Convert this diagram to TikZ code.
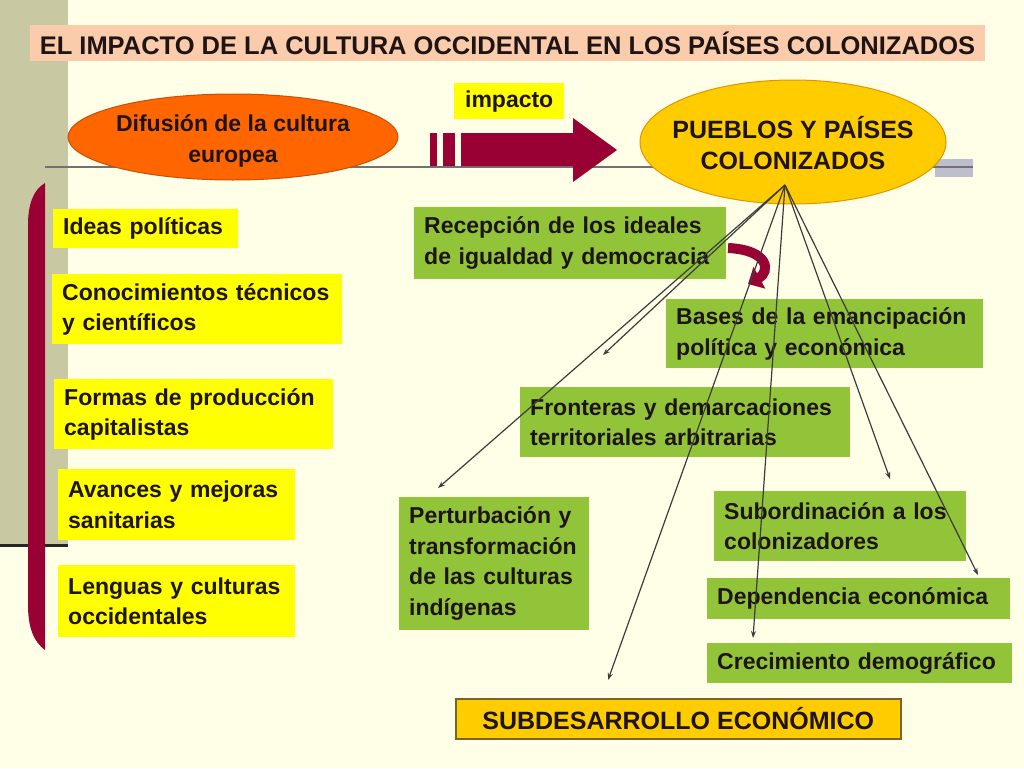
\documentclass[tikz,border=0pt]{standalone}
\usepackage{fontspec}
\setmainfont{Liberation Sans}
\usetikzlibrary{arrows.meta,shapes.geometric}
\definecolor{bg}{RGB}{255,255,232}
\definecolor{band}{RGB}{200,200,162}
\definecolor{peach}{RGB}{250,204,172}
\definecolor{org}{RGB}{255,102,0}
\definecolor{orgd}{RGB}{196,80,10}
\definecolor{gold}{RGB}{255,204,0}
\definecolor{goldd}{RGB}{220,150,0}
\definecolor{yel}{RGB}{255,255,0}
\definecolor{grn}{RGB}{146,196,58}
\definecolor{maroon}{RGB}{153,0,51}
\definecolor{txt}{RGB}{30,20,20}
\definecolor{lin}{RGB}{60,60,60}
\definecolor{hline}{RGB}{120,110,120}
\definecolor{greybox}{RGB}{190,190,205}
\definecolor{brownd}{RGB}{120,100,40}
\tikzset{
  box/.style={anchor=north west, inner xsep=10pt, inner ysep=0pt, align=left,
    font=\bfseries\fontsize{23}{30.5}\selectfont, text=txt},
  ybox/.style={box, fill=yel},
  gbox/.style={box, fill=grn},
  etext/.style={align=center, text=txt, inner sep=0pt},
  conn/.style={draw=lin, line width=1.2pt, -{Stealth[length=7pt,width=5pt]}},
}
\begin{document}
\begin{tikzpicture}[x=1pt,y=-1pt]
\useasboundingbox (0,0) rectangle (1024,768);
\fill[bg] (0,0) rectangle (1024,768);
% left band
\fill[band] (0,0) rectangle (68,545);
\draw[line width=3pt, color=black!85] (0,545) -- (68,545);
% title
\node[fill=peach, minimum width=955pt, minimum height=35pt, inner sep=0pt, text=txt,
  font=\bfseries\fontsize{25.5}{28}\selectfont] (title) at (507.5,43)
  {EL IMPACTO DE LA CULTURA OCCIDENTAL EN LOS PAÍSES COLONIZADOS};
% horizontal line
\draw[hline, line width=2pt] (45,167) -- (935,167);
\fill[greybox] (935,159) rectangle (973,177);
\draw[hline, line width=1.5pt] (935,167) -- (973,167);
% orange ellipse
\node[ellipse, fill=org, draw=orgd, line width=1pt, minimum width=330pt, minimum height=86pt, inner sep=0pt] (dif) at (233,137) {};
\node[etext, font=\bfseries\fontsize{23}{31}\selectfont] (diftext) at (233,141) {Difusión de la cultura\\europea};
% yellow ellipse
\node[ellipse, fill=gold, draw=goldd, line width=1pt, minimum width=306pt, minimum height=124pt, inner sep=0pt] (pb) at (793,142) {};
\node[etext, font=\bfseries\fontsize{25}{31}\selectfont] (pbtext) at (793,143) {PUEBLOS Y PAÍSES\\COLONIZADOS};
% impacto
\node[fill=yel, anchor=north west, minimum width=110pt, minimum height=36pt, inner sep=0pt, text=txt,
  font=\bfseries\fontsize{23}{28}\selectfont] (imp) at (454,83) {impacto};
% big arrow
\fill[maroon] (430,133) rectangle (437,166);
\fill[maroon] (443,133) rectangle (455,166);
\fill[maroon] (461,133) -- (573,133) -- (573,118) -- (617,150) -- (573,182) -- (573,166) -- (461,166) -- cycle;
% left bracket
\fill[maroon] (45,183) -- (45,650) .. controls (34,642) and (28,628) .. (28,605)
  -- (28,225) .. controls (28,205) and (33,190) .. (45,183) -- cycle;
% yellow boxes
\node[ybox, minimum height=39pt, text width=165pt] (i1) at (53,209) {Ideas políticas};
\node[ybox, minimum height=70pt, text width=270pt] (i2) at (52,274) {Conocimientos técnicos\\y científicos};
\node[ybox, minimum height=70pt, text width=259pt] (i3) at (54,379) {Formas de producción\\capitalistas};
\node[ybox, minimum height=71pt, text width=217pt] (i4) at (58,469) {Avances y mejoras\\sanitarias};
\node[ybox, minimum height=72pt, text width=217pt] (i5) at (58,565) {Lenguas y culturas\\occidentales};
% green boxes
\node[gbox, minimum height=72pt, text width=292pt] (g1) at (414,207) {Recepción de los ideales\\de igualdad y democracia};
\node[gbox, minimum height=69pt, text width=297pt] (g2) at (666,299) {Bases de la emancipación\\política y económica};
\node[gbox, minimum height=70pt, text width=310pt] (g3) at (520,387) {Fronteras y demarcaciones\\territoriales arbitrarias};
\node[gbox, minimum height=133pt, text width=170pt] (g4) at (399,497) {Perturbación y\\transformación\\de las culturas\\indígenas};
\node[gbox, minimum height=70pt, text width=232pt] (g5) at (714,491) {Subordinación a los\\colonizadores};
\node[gbox, minimum height=41pt, text width=283pt] (g6) at (707,578) {Dependencia económica};
\node[gbox, minimum height=40pt, text width=285pt] (g7) at (707,643) {Crecimiento demográfico};
% subdesarrollo
\node[fill=gold, draw=brownd, line width=1.5pt, anchor=north west, minimum width=445pt, minimum height=40pt,
  inner sep=0pt, text=txt, font=\bfseries\fontsize{25}{30}\selectfont] (sub) at (455,698) {SUBDESARROLLO ECONÓMICO};
% curved arrow
\draw[maroon, line width=10pt, -{Triangle[length=13pt,width=24pt]}] (728,248) .. controls (770,250) and (770,272) .. (748,284);
% connectors
\coordinate (o) at (785,185);
\coordinate (t1) at (438,488);
\coordinate (t2) at (603,355);
\coordinate (t3) at (608,680);
\coordinate (t4) at (753,638);
\coordinate (t5) at (890,479);
\coordinate (t6) at (978,575);
\draw[conn] (o) -- (t1);
\draw[conn] (o) -- (t2);
\draw[conn] (o) -- (t3);
\draw[conn] (o) -- (t4);
\draw[conn] (o) -- (t5);
\draw[conn] (o) -- (t6);
\end{tikzpicture}
\end{document}
